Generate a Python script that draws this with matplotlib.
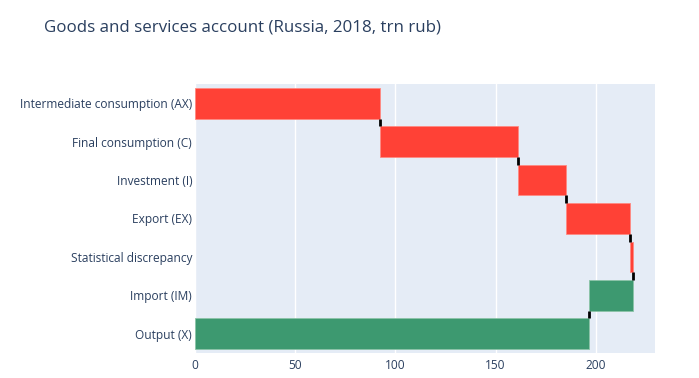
import matplotlib
matplotlib.use("Agg")
import matplotlib.pyplot as plt
import numpy as np

categories = ["Output (X)", "Import (IM)", "Statistical discrepancy", "Export (EX)",
              "Investment (I)", "Final consumption (C)", "Intermediate consumption (AX)"]
values = [196.9, 21.6, -1.2, -32.2, -23.7, -69.2, -92.2]

inc_color = "#3D9970"
dec_color = "#FF4136"

plt.rcParams['font.family'] = ['Open Sans', 'DejaVu Sans']

fig = plt.figure(figsize=(6.99, 3.78), dpi=100)
ax = fig.add_axes([195/699, 1-353/378, (655-195)/699, (353-84)/378])
ax.set_facecolor("#E5ECF6")

vals = np.array(values)
ends = np.cumsum(vals)
starts = ends - vals
ypos = np.arange(len(categories))
h = 0.8
colors = [inc_color if v >= 0 else dec_color for v in vals]
edges = ["#8CC4A8" if v >= 0 else "#FF8A82" for v in vals]
ax.barh(ypos, vals, left=starts, height=h, color=colors, edgecolor=edges, linewidth=0.6, zorder=3)

# connectors
for i in range(len(vals) - 1):
    ax.plot([ends[i], ends[i]], [ypos[i] + h/2, ypos[i+1] - h/2], color="black", lw=2, zorder=4,
            solid_capstyle='butt')

ax.set_xlim(0, 229.6)
ax.set_ylim(-0.5, len(categories) - 0.5)
ax.set_xticks([0, 50, 100, 150, 200])
ax.set_yticks(ypos)
ax.set_yticklabels(categories)
ax.grid(axis='x', color='white', lw=1, zorder=0)
ax.set_axisbelow(True)
for s in ax.spines.values():
    s.set_visible(False)
ax.tick_params(axis='both', length=0, labelsize=8.6, labelcolor="#2a3f5f")
ax.tick_params(axis='y', pad=2)
ax.tick_params(axis='x', pad=4)

fig.text(44/699, 1-28/378, "Goods and services account (Russia, 2018, trn rub)",
         fontsize=12.2, color="#2a3f5f", va='center', ha='left')

fig.savefig("out.png", dpi=100)
